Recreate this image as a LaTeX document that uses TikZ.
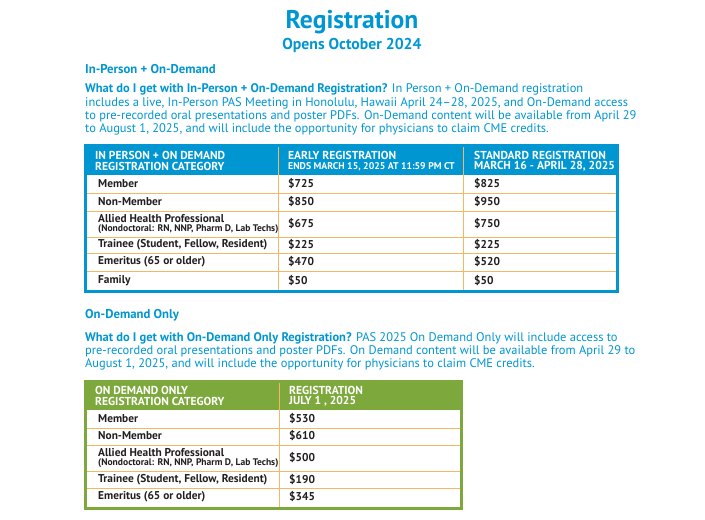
\documentclass[tikz,border=0pt]{standalone}
\usepackage{fontspec}
\setmainfont{PT Sans}
\definecolor{cblue}{HTML}{0096D2}
\definecolor{cgreen}{HTML}{7DA83C}
\definecolor{corange}{HTML}{F2B865}
\definecolor{cdark}{HTML}{231F20}
\newcommand{\smallnote}{\bfseries\fontsize{9.6}{9.5}\selectfont}
\tikzset{
  txt/.style={anchor=west,inner sep=0,text=cblue,font=\fontsize{12.5}{13}\selectfont},
  head/.style={anchor=west,inner sep=0,text=cblue,font=\bfseries\fontsize{12.8}{13}\selectfont},
  th/.style={anchor=west,inner sep=0,text=white,align=left,font=\bfseries\fontsize{11.6}{10.5}\selectfont},
  td/.style={anchor=west,inner sep=0,text=cdark,align=left,font=\bfseries\fontsize{11.4}{10}\selectfont},
  grid/.style={corange,line width=0.9pt}
}
\begin{document}
\begin{tikzpicture}[x=1bp,y=-1bp]
\useasboundingbox (0,0) rectangle (705,520);
\node[text=cblue,font=\bfseries\fontsize{25.7}{26}\selectfont] (title) at (352,22) {Registration};
\node[text=cblue,font=\bfseries\fontsize{15.8}{16}\selectfont] (sub) at (352,45) {Opens October 2024};
\node[head] (h1) at (85,69) {In-Person + On-Demand};
\node[txt] (p1) at (85,89) {\textbf{What do I get with In-Person + On-Demand Registration?} In Person + On-Demand registration};
\node[txt] (p2) at (85,103) {includes a live, In-Person PAS Meeting in Honolulu, Hawaii April 24–28, 2025, and On-Demand access};
\node[txt] (p3) at (85,116) {to pre-recorded oral presentations and poster PDFs. On-Demand content will be available from April 29};
\node[txt] (p4) at (85,129) {to August 1, 2025, and will include the opportunity for physicians to claim CME credits.};
% blue table
\fill[white] (85,146) rectangle (617,291);
\fill[cblue] (85,146) rectangle (617,175);
\foreach \y in {193,211,237,253,271} \draw[grid] (85,\y) -- (617,\y);
\draw[grid] (278,146) -- (278,291);
\draw[grid] (463,146) -- (463,291);
\draw[cblue,line width=3bp] (85,146) rectangle (617,291);
\node[th] (a0) at (95,161) {IN PERSON + ON DEMAND\\REGISTRATION CATEGORY};
\node[th] (b0) at (288,161) {EARLY REGISTRATION\\{\fontsize{9.8}{10}\selectfont ENDS MARCH 15, 2025 AT 11:59 PM CT}};
\node[th] (c0) at (474,161) {STANDARD REGISTRATION\\MARCH 16 - APRIL 28, 2025};
\node[td] (a1) at (98,184) {Member};
\node[td] (b1) at (288,184) {\$725};
\node[td] (c1) at (474,184) {\$825};
\node[td] (a2) at (98,202) {Non-Member};
\node[td] (b2) at (288,202) {\$850};
\node[td] (c2) at (474,202) {\$950};
\node[td] (a3) at (98,224) {Allied Health Professional\\{\smallnote (Nondoctoral: RN, NNP, Pharm D, Lab Techs)}};
\node[td] (b3) at (288,224) {\$675};
\node[td] (c3) at (474,224) {\$750};
\node[td] (a4) at (98,245) {Trainee (Student, Fellow, Resident)};
\node[td] (b4) at (288,245) {\$225};
\node[td] (c4) at (474,245) {\$225};
\node[td] (a5) at (98,262) {Emeritus (65 or older)};
\node[td] (b5) at (288,262) {\$470};
\node[td] (c5) at (474,262) {\$520};
\node[td] (a6) at (98,281) {Family};
\node[td] (b6) at (288,281) {\$50};
\node[td] (c6) at (474,281) {\$50};
% second part
\node[head] (h2) at (85,315) {On-Demand Only};
\node[txt] (q1) at (85,338) {\textbf{What do I get with On-Demand Only Registration?} PAS 2025 On Demand Only will include access to};
\node[txt] (q2) at (85,351) {pre-recorded oral presentations and poster PDFs. On Demand content will be available from April 29 to};
\node[txt] (q3) at (85,364) {August 1, 2025, and will include the opportunity for physicians to claim CME credits.};
% green table
\fill[white] (85,381) rectangle (461,508);
\fill[cgreen] (85,381) rectangle (461,410);
\foreach \y in {428,445,471,488} \draw[grid] (85,\y) -- (461,\y);
\draw[grid] (279,381) -- (279,508);
\draw[cgreen,line width=3bp] (85,381) rectangle (461,508);
\node[th] (d0) at (95,396) {ON DEMAND ONLY\\REGISTRATION CATEGORY};
\node[th] (e0) at (289,396) {REGISTRATION\\JULY 1 , 2025};
\node[td] (d1) at (98,419) {Member};
\node[td] (e1) at (289,419) {\$530};
\node[td] (d2) at (98,436) {Non-Member};
\node[td] (e2) at (289,436) {\$610};
\node[td] (d3) at (98,458) {Allied Health Professional\\{\smallnote (Nondoctoral: RN, NNP, Pharm D, Lab Techs)}};
\node[td] (e3) at (289,458) {\$500};
\node[td] (d4) at (98,480) {Trainee (Student, Fellow, Resident)};
\node[td] (e4) at (289,480) {\$190};
\node[td] (d5) at (98,497) {Emeritus (65 or older)};
\node[td] (e5) at (289,497) {\$345};
\end{tikzpicture}
\end{document}
